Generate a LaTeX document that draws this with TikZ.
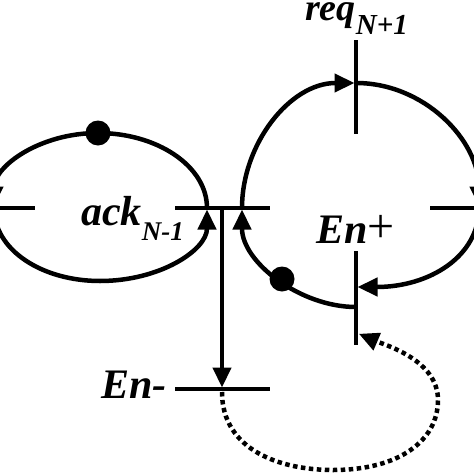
\documentclass[tikz,border=0pt]{standalone}
\usepackage{fontspec}
\setmainfont{Liberation Serif}
\usetikzlibrary{arrows.meta}
\begin{document}
\begin{tikzpicture}[x=1pt,y=-1pt,
  arc/.style={line width=4.5pt, -{Triangle[length=20pt,width=18pt]}, shorten >=1.5pt},
  dotarc/.style={line width=4.5pt, dash pattern=on 4.5pt off 3.5pt, -{Triangle[length=20pt,width=18pt]}, shorten >=2pt},
  hbar/.style={fill=black, inner sep=0pt, minimum width=95pt, minimum height=4.5pt, draw=none},
  vbar/.style={fill=black, inner sep=0pt, minimum width=4.5pt, minimum height=94pt, draw=none},
  token/.style={circle, fill=black, inner sep=0pt, minimum size=25pt},
  lab/.style={inner sep=0pt, anchor=base west, font=\fontsize{42}{42}\selectfont\bfseries\itshape}]
\useasboundingbox (0,0) rectangle (474,474);
\begin{scope}
\clip (0,0) rectangle (474,474);
% transitions
\node[hbar] (tL) at (-13,208) {};
\node[hbar] (tAck) at (222,208) {};
\node[hbar] (tEm) at (222,389) {};
\node[vbar] (tReq) at (356,87) {};
\node[hbar] (tR) at (477,208) {};
\node[vbar] (tEp) at (356,298) {};
% attach points
\coordinate (pL) at (-6,208);
\coordinate (pA) at (207,208);
\coordinate (pA2) at (242,208);
\coordinate (pAv) at (222,208);
\coordinate (pEm) at (222,389);
\coordinate (pEmD) at (222,392);
\coordinate (pReq) at (356,83);
\coordinate (pR) at (479,208);
\coordinate (pEp1) at (356,287);
\coordinate (pEp2) at (356,307);
\coordinate (pEp3) at (357,333);
\coordinate (top) at (98,133);
\coordinate (bot) at (100,281);
% left ellipse
\draw[arc] (pA) .. controls (207,166) and (157,133) .. (top) .. controls (40,133) and (-6,166) .. (pL);
\draw[arc] (pL) .. controls (-6,250) and (42,281) .. (bot) .. controls (160,281) and (207,250) .. (pA);
% vertical
\draw[arc] (pAv) -- (pEm);
% right loop
\draw[arc] (pA2) .. controls (242,144) and (290,83) .. (pReq);
\draw[arc] (pReq) .. controls (424,83) and (479,140) .. (pR);
\draw[arc] (pR) .. controls (479,256) and (430,287) .. (pEp1);
\draw[arc] (pEp2) .. controls (300,307) and (242,262) .. (pA2);
% dotted
\draw[dotarc] (pEmD) .. controls (222,450) and (280,470) .. (333,470) .. controls (400,470) and (438,440) .. (438,400) .. controls (438,360) and (385,345) .. (pEp3);
% tokens
\node[token] (tok1) at (top) {};
\node[token] (tok2) at (282,279) {};
% labels
\node[lab] (lAck) at (81,225) {ack\raisebox{-15pt}{\fontsize{27}{27}\selectfont N-1}};
\node[lab] (lReq) at (305,20) {\fontsize{38}{38}\selectfont req\raisebox{-14pt}{\fontsize{29}{29}\selectfont N+1}};
\node[lab] (lEp) at (316,243) {En\raisebox{1pt}{\normalfont\fontsize{48}{48}\selectfont +}};
\node[lab] (lEm) at (101,398) {En-};
\end{scope}
\end{tikzpicture}
\end{document}
